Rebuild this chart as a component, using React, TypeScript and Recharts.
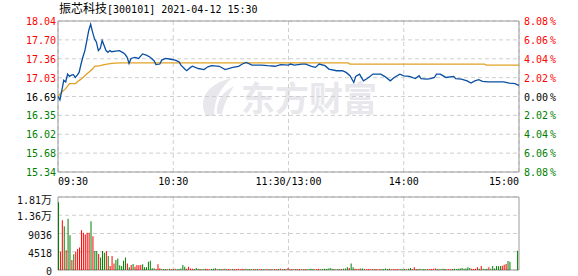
import React from 'react';
import {
  LineChart,
  Line,
  BarChart,
  Bar,
  Cell,
  XAxis,
  YAxis,
  CartesianGrid,
  ReferenceArea,
} from 'recharts';

/* ---------- DATA ---------- */
const stockName = '振芯科技';
const stockCode = '300101';
const stamp = '2021-04-12 15:30';
const prevClose = 16.69;
const pctTicks = [-8.08, -6.06, -4.04, -2.02, 0, 2.02, 4.04, 6.06, 8.08];
const timeTicks = [0, 60, 120, 180, 240];
const timeLabels = ['09:30', '10:30', '11:30/13:00', '14:00', '15:00'];
const volTicks = [0, 4518, 9036, 13554, 18072];

// minute since open -> last price
const priceMin = [
  0, 1, 2, 3, 4, 5, 6, 7, 8, 9, 10, 11, 12, 13, 14, 15, 16, 17, 18, 19, 20, 21, 22,
  23, 24, 25, 26, 27, 28, 30, 32, 34, 35, 36, 37, 38, 40, 42, 44, 46, 48, 50, 51, 53,
  54, 56, 58, 61, 63, 64, 66, 67, 69, 70, 73, 76, 78, 80, 84, 87, 91, 94, 96, 98, 101,
  106, 109, 113, 116, 120, 121, 123, 127, 129, 132, 134, 136, 139, 141, 145, 148, 150,
  152, 154, 155, 157, 159, 161, 164, 168, 170, 173, 175, 178, 180, 183, 186, 188, 189,
  192, 194, 196, 197, 199, 201, 202, 206, 207, 210, 213, 215, 217, 219, 221, 224, 227,
  230, 232, 235, 238, 239, 240,
];
const priceVal = [
  16.69, 16.63, 16.8, 16.98, 16.95, 17.09, 17.05, 17.07, 17.08, 17.03, 17.07, 17.12,
  17.27, 17.4, 17.51, 17.69, 17.87, 17.98, 17.84, 17.72, 17.66, 17.51, 17.55, 17.69,
  17.6, 17.51, 17.48, 17.51, 17.49, 17.5, 17.51, 17.47, 17.44, 17.39, 17.28, 17.37,
  17.39, 17.37, 17.45, 17.43, 17.39, 17.33, 17.26, 17.27, 17.34, 17.37, 17.36, 17.34,
  17.31, 17.25, 17.18, 17.15, 17.21, 17.23, 17.19, 17.17, 17.22, 17.24, 17.23, 17.17,
  17.21, 17.23, 17.27, 17.3, 17.25, 17.25, 17.24, 17.23, 17.26, 17.25, 17.27, 17.25,
  17.27, 17.27, 17.23, 17.21, 17.27, 17.24, 17.18, 17.15, 17.15, 17.12, 17.06, 16.94,
  17.05, 17.09, 16.97, 17.01, 17.09, 17.09, 17.05, 16.97, 17.03, 17.09, 17.06, 17.05,
  17.01, 17.06, 17.01, 17.0, 17.01, 17.03, 17.09, 17.09, 17.05, 17.03, 17.05, 17.01,
  17.0, 16.97, 16.93, 16.97, 16.99, 16.96, 16.95, 16.95, 16.95, 16.95, 16.93, 16.92,
  16.9, 16.89,
];

// average price line
const avgMin = [0, 2, 4, 6, 9, 10, 12, 15, 18, 19, 22, 24, 28, 32, 151, 152, 222, 223, 240];
const avgVal = [
  16.69, 16.77, 16.83, 16.92, 16.92, 16.95, 17.0, 17.09, 17.18, 17.23, 17.24, 17.26,
  17.28, 17.29, 17.29, 17.27, 17.27, 17.25, 17.25,
];

// volume per minute (241 bars)
const volumes = [
  16750, 4500, 12300, 10800, 4900, 12700, 8600, 2460, 3900, 4500,
  5200, 5600, 9850, 9200, 8800, 9200, 9200, 12070, 8380, 4680,
  4680, 3940, 3120, 4680, 4270, 4680, 3450, 985, 3450, 1640,
  2460, 2870, 1150, 985, 2300, 3120, 1640, 660, 1230, 1480,
  820, 1230, 1150, 1230, 1400, 660, 660, 2050, 2300, 410,
  410, 250, 1400, 410, 250, 250, 250, 200, 300, 200,
  250, 300, 200, 250, 400, 1230, 820, 300, 820, 400,
  300, 250, 500, 300, 250, 200, 250, 300, 250, 200,
  250, 300, 450, 200, 250, 200, 250, 300, 200, 250,
  200, 250, 200, 250, 300, 200, 300, 250, 300, 200,
  250, 200, 250, 200, 250, 200, 250, 200, 200, 250,
  200, 250, 200, 250, 200, 250, 300, 200, 250, 200,
  500, 200, 250, 200, 250, 200, 250, 200, 200, 250,
  200, 250, 300, 250, 200, 250, 300, 200, 250, 300,
  250, 400, 500, 300, 250, 200, 250, 200, 250, 300,
  400, 660, 500, 1640, 660, 300, 250, 300, 400, 400,
  250, 200, 250, 200, 250, 200, 250, 200, 250, 200,
  250, 400, 250, 300, 200, 250, 200, 250, 200, 250,
  200, 250, 200, 300, 500, 250, 660, 250, 250, 300,
  200, 250, 200, 250, 200, 250, 300, 350, 250, 200,
  250, 300, 250, 200, 250, 200, 250, 300, 250, 300,
  400, 500, 300, 400, 660, 500, 300, 250, 300, 660,
  300, 985, 300, 250, 300, 660, 300, 985, 400, 985,
  900, 985, 1070, 1300, 1480, 2200, 2050, 0, 0, 0,
  4760,
];
// r = up minute, g = down minute
const volSide =
  'grrgrggrgr' + 'rrrrrrrgrg' + 'grgggrgrrr' + 'ggggggrgrg' + 'rrrrgggggg' +
  'grrrgggrgr' + 'grgggggrrr' + 'rgggrggrrr' + 'gggrggrgrr' + 'rgrrrrrrgg' +
  'grgrgrrggr' + 'grgrrgrgrg' + 'rgrrgrrrgr' + 'ggggrrrggg' + 'gggggrggrg' +
  'ggrggrrrgg' + 'rrrrrgrrrg' + 'ggggrrrrrg' + 'ggrggrrgrg' + 'gggrrrrrgr' +
  'gggrrrgggg' + 'ggggggrrrr' + 'grgggrgggg' + 'ggrrrgg---' + 'g';

/* ---------- STYLE ---------- */
const RED = '#ff0000';
const GREEN = '#008000';
const GRID = '#cfcfcf';
const FRAME = '#9a9a9a';
const MONO = '"DejaVu Sans Mono", "Liberation Mono", monospace';
const CJK = '"Noto Sans CJK SC", sans-serif';

const priceTicks = pctTicks.map((p) => prevClose * (1 + p / 100));
const priceData = priceMin.map((m, i) => ({ m, price: priceVal[i] }));
const avgData = avgMin.map((m, i) => ({ m, avg: avgVal[i] }));
const volData = volumes.map((v, i) => ({ i, v, side: volSide[i] }));

const pctColor = (p: number) => (p > 0 ? RED : p < 0 ? GREEN : '#000');

const PriceTick = (props: any) => {
  const { x, y, index } = props;
  const p = pctTicks[index];
  return (
    <text x={x} y={y} dy={4} textAnchor="end" fill={pctColor(p)} fontSize={10} fontFamily={MONO}>
      {priceTicks[index].toFixed(2)}
    </text>
  );
};

const PctTick = (props: any) => {
  const { x, y, index } = props;
  const p = pctTicks[index];
  return (
    <text x={x} y={y} dy={4} textAnchor="start" fill={pctColor(p)} fontSize={10} fontFamily={MONO}>
      {Math.abs(p).toFixed(2)}
      <tspan dx={2}>%</tspan>
    </text>
  );
};

const TimeTick = (props: any) => {
  const { x, y, index } = props;
  const anchor = index === 0 ? 'start' : index === timeLabels.length - 1 ? 'end' : 'middle';
  return (
    <text x={x} y={y} dy={13} textAnchor={anchor} fill="#000" fontSize={10} fontFamily={MONO}>
      {timeLabels[index]}
    </text>
  );
};

const VolTick = (props: any) => {
  const { x, y, payload, index } = props;
  const v: number = payload.value;
  const big = v >= 10000;
  const top = index === volTicks.length - 1;
  return (
    <text
      x={x}
      y={y}
      dy={top ? 7 : 5}
      textAnchor="end"
      fill="#111"
      fontSize={10}
      fontFamily={MONO}
    >
      {big ? (v / 10000).toFixed(2) : String(v)}
      {big && (
        <tspan fontFamily={CJK} fontSize={11}>
          万
        </tspan>
      )}
    </text>
  );
};

export default function App() {
  return (
    <div
      style={{
        position: 'absolute',
        left: 0,
        top: 0,
        width: 578,
        height: 276,
        background: '#fff',
        overflow: 'hidden',
      }}
    >
      {/* watermark */}
      <svg width={578} height={276} style={{ position: 'absolute', left: 0, top: 0 }}>
        <path
          d="M206 116 C198 100 206 84 232 78 C220 88 214 100 214 116 Z"
          fill="#e8e8ec"
        />
        <path d="M217 114 C216 102 222 92 234 86 C228 96 224 104 222 114 Z" fill="#e8e8ec" />
        <text x={241} y={111} fontSize={34} fontWeight={700} fontFamily={CJK} fill="#e8e8ec">
          东方财富
        </text>
      </svg>

      {/* title */}
      <div
        style={{
          position: 'absolute',
          left: 59,
          top: 1,
          fontSize: 10,
          lineHeight: '14px',
          fontFamily: MONO,
          color: '#000',
          whiteSpace: 'nowrap',
        }}
      >
        <span style={{ fontFamily: CJK, fontSize: 12 }}>{stockName}</span>[{stockCode}] {stamp}
      </div>

      {/* price chart */}
      <div style={{ position: 'absolute', left: 0, top: 0 }}>
        <LineChart width={578} height={190} margin={{ top: 21, right: 0, bottom: 0, left: 0 }}>
          <CartesianGrid yAxisId="price" stroke={GRID} strokeDasharray="4 3" />
          <XAxis
            dataKey="m"
            type="number"
            domain={[0, 240]}
            ticks={timeTicks}
            allowDuplicatedCategory={false}
            axisLine={false}
            tickLine={false}
            tickSize={0}
            tickMargin={0}
            height={18}
            tick={<TimeTick />}
            interval={0}
          />
          <YAxis
            yAxisId="price"
            type="number"
            domain={[priceTicks[0], priceTicks[priceTicks.length - 1]]}
            ticks={priceTicks}
            interval={0}
            width={58}
            axisLine={false}
            tickLine={false}
            tickSize={0}
            tickMargin={2}
            tick={<PriceTick />}
            allowDataOverflow
          />
          <YAxis
            yAxisId="pct"
            orientation="right"
            type="number"
            domain={[priceTicks[0], priceTicks[priceTicks.length - 1]]}
            ticks={priceTicks}
            interval={0}
            width={59}
            axisLine={false}
            tickLine={false}
            tickSize={0}
            tickMargin={5}
            tick={<PctTick />}
            allowDataOverflow
          />
          <ReferenceArea
            yAxisId="price"
            y1={priceTicks[0]}
            y2={priceTicks[priceTicks.length - 1]}
            fill="none"
            stroke={FRAME}
            strokeWidth={1}
            ifOverflow="visible"
          />
          <Line
            yAxisId="price"
            data={avgData}
            dataKey="avg"
            type="linear"
            stroke="#e0a223"
            strokeWidth={1.3}
            dot={false}
            isAnimationActive={false}
          />
          <Line
            yAxisId="price"
            data={priceData}
            dataKey="price"
            type="linear"
            stroke="#0a4fa3"
            strokeWidth={1.3}
            dot={false}
            isAnimationActive={false}
          />
        </LineChart>
      </div>

      {/* volume chart */}
      <div style={{ position: 'absolute', left: 0, top: 184 }}>
        <BarChart
          width={578}
          height={92}
          data={volData}
          margin={{ top: 13, right: 59, bottom: 6, left: 0 }}
          barCategoryGap={0}
        >
          <CartesianGrid
            stroke={GRID}
            strokeDasharray="4 3"
            verticalCoordinatesGenerator={({ offset }: any) =>
              [60, 120, 180].map((m) => offset.left + (offset.width * m) / 240)
            }
          />
          <XAxis dataKey="i" hide />
          <YAxis
            type="number"
            domain={[0, volTicks[volTicks.length - 1]]}
            ticks={volTicks}
            interval={0}
            width={58}
            axisLine={false}
            tickLine={false}
            tickSize={0}
            tickMargin={6}
            tick={<VolTick />}
          />
          <ReferenceArea
            y1={0}
            y2={volTicks[volTicks.length - 1]}
            fill="none"
            stroke={FRAME}
            strokeWidth={1}
            ifOverflow="visible"
          />
          <Bar dataKey="v" barSize={1} isAnimationActive={false}>
            {volData.map((d) => (
              <Cell key={d.i} fill={d.side === 'r' ? RED : GREEN} />
            ))}
          </Bar>
        </BarChart>
      </div>
    </div>
  );
}
